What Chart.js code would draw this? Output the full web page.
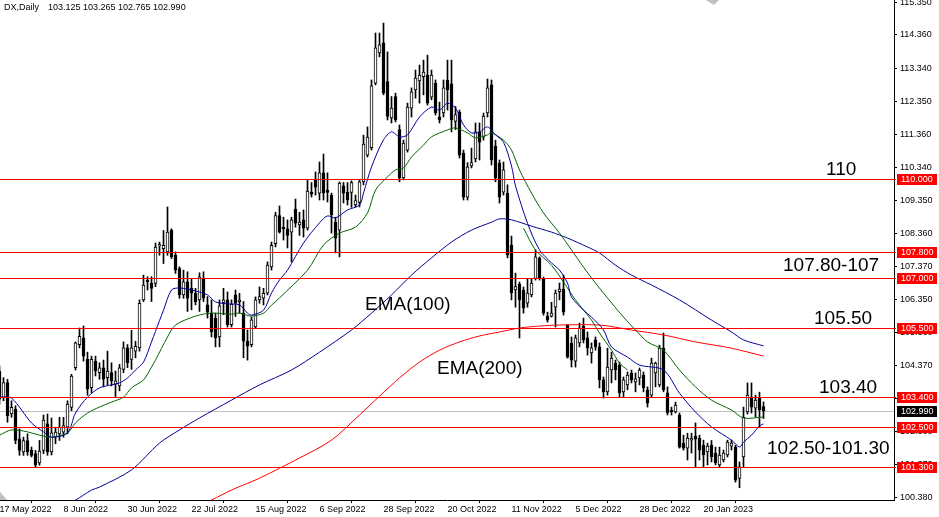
<!DOCTYPE html>
<html><head><meta charset="utf-8">
<script src="https://cdn.jsdelivr.net/npm/chart.js@4.4.0/dist/chart.umd.min.js"></script>
<style>html,body{margin:0;padding:0;background:#fff;overflow:hidden}canvas{display:block}</style>
</head><body>
<canvas id="c" width="939" height="517"></canvas>
<script>
// ---------- data ----------
const symbolName = 'DX,Daily';
const lastBarText = '103.125 103.265 102.765 102.990';
const dateLabels = ['17 May 2022','8 Jun 2022','30 Jun 2022','22 Jul 2022','15 Aug 2022','6 Sep 2022','28 Sep 2022','20 Oct 2022','11 Nov 2022','5 Dec 2022','28 Dec 2022','20 Jan 2023'];
const dateLabelBars = [0,16,32,48,64,80,96,112,128,144,160,176];
const priceTicks = [115.35,114.36,113.34,112.35,111.36,110.34,109.35,108.36,107.37,106.35,105.36,104.37,103.38,102.38,101.37,100.38];
const levels = [110.0,107.8,107.0,105.5,103.4,102.5,101.3];
const currentPrice = 102.990;
const yMin = 100.30, yMax = 115.418;

const opens = [104.20,103.40,103.85,102.90,103.05,102.15,101.75,102.10,101.80,101.70,101.42,101.80,102.60,101.75,102.20,102.30,102.35,102.50,103.10,104.30,
105.00,105.20,104.55,103.70,104.50,104.15,104.30,104.00,104.15,103.80,103.75,104.25,104.90,104.55,104.80,104.90,106.35,106.95,106.85,106.85,
107.98,107.90,107.80,108.45,107.70,107.30,106.50,106.90,106.70,106.55,106.35,107.00,106.20,105.95,105.80,105.23,106.27,106.35,105.60,106.50,
106.30,105.95,105.10,105.00,105.53,106.35,106.40,106.55,107.35,108.05,108.90,108.55,108.50,108.40,109.10,108.62,108.77,108.52,109.60,110.00,
109.58,110.19,109.67,109.52,108.70,108.46,109.80,109.60,109.60,109.22,109.30,109.92,110.73,110.95,112.90,113.82,114.12,112.95,111.85,112.50,
111.50,110.04,110.88,112.15,112.70,112.97,113.10,113.15,112.48,112.90,111.88,112.00,113.00,112.88,111.75,112.03,110.79,109.46,110.40,110.61,
111.43,111.27,112.00,112.85,111.00,110.49,109.61,109.58,108.01,106.65,106.83,106.65,106.25,106.50,107.00,107.62,107.00,105.86,105.86,106.13,
106.60,106.68,105.60,105.04,104.50,105.05,105.56,105.20,104.75,105.14,104.93,103.93,103.57,104.23,104.44,104.38,103.57,103.78,104.14,103.87,
103.99,104.08,103.63,103.47,104.14,103.78,104.89,103.54,103.02,102.96,102.87,102.02,101.87,102.11,102.23,102.17,101.96,101.75,101.96,101.72,
101.36,101.51,101.66,101.93,101.90,100.95,101.60,102.96,103.38,103.08,103.38,103.125];
const highs = [104.35,104.00,103.95,103.30,103.15,102.45,102.20,102.30,101.90,101.80,102.10,102.87,102.90,102.78,102.50,102.80,102.80,103.30,104.10,105.08,
105.50,105.56,104.77,104.65,104.65,104.45,104.53,104.80,104.45,104.20,104.40,105.08,105.00,105.43,105.10,106.35,107.10,107.05,107.05,108.07,
108.10,108.45,109.16,108.50,107.80,107.35,107.25,107.20,107.00,106.70,107.17,107.20,106.45,106.35,105.95,106.35,106.70,106.59,106.35,106.65,
106.55,106.30,105.44,105.83,106.44,106.74,106.70,107.50,108.10,109.00,109.19,108.85,108.77,108.85,109.40,109.00,109.07,109.98,109.90,110.22,
110.52,110.76,110.19,109.58,108.85,109.92,109.90,109.90,109.95,109.52,109.98,111.33,111.58,113.00,114.42,114.42,114.72,113.85,112.50,112.60,
111.64,111.18,112.30,112.76,113.30,113.45,113.60,113.75,113.30,113.00,112.33,113.00,113.60,113.60,112.20,112.09,110.88,110.50,110.94,111.70,
111.70,112.00,113.03,113.00,111.18,110.58,110.52,109.83,108.28,107.16,106.89,106.74,107.00,107.00,107.86,107.65,107.04,105.98,106.28,106.65,
106.86,107.10,105.60,105.23,105.29,105.65,105.80,105.38,105.05,105.23,105.05,104.02,104.89,104.77,104.53,104.47,104.02,104.17,104.23,104.14,
104.29,104.17,103.72,104.59,104.47,104.98,105.35,103.72,103.11,103.26,102.93,102.26,102.32,102.32,102.63,102.26,102.11,102.02,102.10,101.90,
101.90,101.81,102.11,102.11,101.96,101.45,103.11,103.84,103.84,103.47,103.56,103.265];
const lows = [103.20,103.30,102.65,102.80,102.00,101.65,101.65,101.65,101.60,101.30,101.35,101.70,101.65,101.66,102.00,102.10,102.20,102.30,103.00,104.23,
104.90,104.50,103.47,103.55,104.05,103.95,103.72,103.78,103.75,103.40,103.60,104.15,104.30,104.25,104.60,104.80,106.30,106.65,106.30,106.75,
107.70,107.45,107.70,107.60,107.15,106.40,106.40,106.00,106.05,106.20,106.00,106.30,105.80,105.23,104.93,104.93,105.90,105.53,105.53,105.85,
105.95,104.60,104.53,104.93,105.50,106.25,106.20,106.50,107.25,107.95,108.37,108.16,107.92,107.50,108.55,108.30,108.25,108.46,109.46,109.52,
109.37,109.37,109.31,108.37,107.77,107.65,109.28,109.22,109.15,109.16,109.16,109.83,110.67,110.88,112.85,113.70,112.55,111.79,111.70,111.73,
109.92,109.98,110.82,111.88,112.45,112.30,112.55,112.24,112.40,111.94,111.70,111.88,112.09,111.43,111.50,110.64,109.37,109.37,110.34,110.52,
110.58,111.18,111.88,110.43,109.92,109.28,109.52,107.62,106.35,106.13,105.20,105.95,106.13,106.44,106.95,106.95,105.89,105.68,105.83,105.53,
106.35,105.89,104.59,104.32,104.32,104.93,105.05,104.68,104.44,104.83,103.69,103.38,103.47,103.84,103.93,103.42,103.42,103.63,103.84,103.57,
103.78,103.57,103.11,103.42,103.72,103.72,103.57,102.87,102.87,102.93,101.87,101.81,101.51,101.72,101.30,101.51,101.30,101.36,101.45,101.36,
101.30,101.45,101.60,101.81,100.84,100.67,101.30,102.90,102.93,102.81,102.50,102.765];
const closes = [103.35,103.85,102.85,103.10,102.10,101.80,102.10,101.75,101.65,101.35,101.78,102.72,101.75,102.33,102.35,102.50,102.55,103.20,104.05,105.05,
105.25,104.65,103.65,104.55,104.20,104.30,103.95,104.20,103.90,103.90,104.30,104.90,104.45,104.90,104.95,106.25,106.80,106.90,106.70,107.95,
108.02,108.00,108.40,107.65,107.25,106.50,106.90,106.40,106.55,106.30,107.05,106.40,105.98,105.38,105.20,106.17,106.35,105.60,106.22,106.25,
106.35,105.10,104.95,105.75,106.35,106.45,106.55,107.40,108.00,108.90,108.40,108.50,108.30,108.77,108.67,108.70,108.52,109.64,109.55,109.76,
110.19,109.58,109.60,108.92,108.22,109.88,109.58,109.37,109.90,109.35,109.92,111.06,111.27,112.82,113.97,114.06,112.60,111.90,112.15,111.79,
110.04,111.09,112.18,112.64,113.06,113.15,113.24,112.30,113.15,112.00,111.79,112.76,112.70,111.79,111.95,110.73,109.46,110.37,110.50,111.43,
111.12,111.91,112.76,110.58,110.04,109.46,110.28,107.71,106.56,106.75,106.35,106.10,106.56,106.86,107.65,107.00,105.95,105.74,105.95,106.56,
106.68,105.98,104.62,104.53,105.20,105.50,105.14,104.90,104.90,104.93,103.93,103.57,104.32,104.59,104.23,103.54,103.93,104.08,103.93,103.96,
104.23,103.69,103.23,104.44,104.44,104.89,103.63,102.93,102.96,103.17,101.90,101.87,102.17,102.17,102.14,101.81,101.66,101.93,101.60,101.42,
101.66,101.72,102.05,102.02,100.90,101.30,102.80,103.47,103.11,103.32,103.02,102.990];

// moving averages (bar index, value)
const emaFastBars = [0,3,8,11,13,17,19,22,25,28,30,32,34,36,38,39,41,43,45,49,52,54,57,60,62,63,66,68,70,72,76,80,82,84,87,90,91,93,96,98,100,102,105,108,110,112,114,116,118,120,122,124,126,128,129,132,135,138,140,142,143,146,148,151,153,157,160,166,170,174,178,183,185,186,188,190,191];
const emaFastValues = [103.41,103.38,102.63,102.36,102.20,102.33,102.93,103.41,103.69,103.78,103.84,103.99,104.23,104.47,105.08,105.40,106.04,106.65,106.71,106.62,106.50,106.29,106.23,106.20,105.95,105.89,106.04,106.56,106.95,107.25,108.07,108.68,108.89,108.83,109.07,109.22,109.58,110.37,111.19,111.43,111.28,111.34,111.88,112.18,112.09,112.30,112.15,111.64,111.40,111.43,111.58,111.34,111.12,110.40,109.80,108.67,107.86,107.47,107.25,106.86,106.44,106.04,105.83,105.44,104.93,104.62,104.38,104.23,103.53,102.96,102.51,102.11,101.90,102.05,102.26,102.54,102.60];
const emaMidBars = [0,3,7,10,13,17,19,22,25,28,31,33,36,38,39,42,44,49,53,58,60,63,66,68,70,77,81,85,89,92,94,97,99,101,103,106,108,112,114,117,119,122,123,126,128,130,133,136,140,143,146,149,153,156,159,162,166,170,174,178,183,186,191];
const emaMidValues = [102.26,102.42,102.36,102.26,102.20,102.33,102.63,102.93,103.11,103.26,103.41,103.69,103.93,104.32,104.53,105.23,105.59,105.86,105.95,105.92,105.95,105.86,105.95,106.19,106.41,107.25,108.01,108.37,108.55,108.98,109.67,110.07,110.28,110.34,110.67,111.03,111.28,111.49,111.55,111.40,111.25,111.34,111.40,111.18,110.88,110.28,109.58,108.98,108.37,107.86,107.34,106.86,106.26,105.83,105.44,105.08,104.83,104.23,103.72,103.32,103.02,102.78,102.81];
const ema100Bars = [15,19,23,25,33,40,45,50,58,65,73,80,88,93,98,103,108,113,118,123,125,128,133,138,142,147,150,154,158,163,170,178,183,186,191];
const ema100Values = [100.10,100.30,100.60,100.69,101.21,102.02,102.42,102.78,103.32,103.78,104.23,104.77,105.44,105.95,106.50,107.10,107.62,108.10,108.46,108.70,108.80,108.77,108.58,108.40,108.22,107.95,107.77,107.40,107.10,106.80,106.35,105.74,105.38,105.14,104.96];
const ema200Bars = [50,53,58,65,75,83,90,95,100,105,110,115,120,125,130,135,140,150,158,166,174,183,191];
const ema200Values = [100.15,100.30,100.60,100.96,101.57,102.11,102.87,103.44,103.99,104.47,104.83,105.08,105.26,105.38,105.50,105.56,105.59,105.59,105.44,105.29,105.08,104.89,104.65];
const trendBars = [131,134,138,141,144,148,150,153,155,157];
const trendValues = [108.52,107.86,107.40,106.89,106.35,105.74,105.35,104.83,104.44,104.23];

// ---------- build ----------
const barIdx = opens.map((_, i) => i);
const wickData = barIdx.map(i => ({x: i, y: [lows[i], highs[i]]}));
const bodyData = barIdx.map(i => ({x: i, y: [Math.min(opens[i], closes[i]), Math.max(opens[i], closes[i])]}));
const bodyFill = barIdx.map(i => closes[i] >= opens[i] ? '#ffffff' : '#000000');
const pts = (b, v) => b.map((x, k) => ({x, y: v[k]}));

const FONT = 'Liberation Sans';
Chart.defaults.font.family = FONT;
Chart.defaults.font.size = 9;
Chart.defaults.color = '#000';

const lineDs = (data, color, order) => ({type: 'line', data, borderColor: color, borderWidth: 1, pointRadius: 0, fill: false, tension: 0.3, order});

const overlay = {
  id: 'overlay',
  beforeDatasetsDraw(chart) {
    const {ctx, chartArea: a, scales: {y}} = chart;
    ctx.save();
    const py = Math.round(y.getPixelForValue(currentPrice)) + 0.5;
    ctx.strokeStyle = '#c0c0c0'; ctx.lineWidth = 1;
    ctx.beginPath(); ctx.moveTo(a.left, py); ctx.lineTo(a.right, py); ctx.stroke();
    ctx.restore();
  },
  afterDatasetsDraw(chart) {
    const {ctx, chartArea: a, scales: {y}} = chart;
    ctx.save();
    ctx.strokeStyle = '#ff0000'; ctx.lineWidth = 1;
    levels.forEach(v => {
      const py = Math.round(y.getPixelForValue(v)) + 0.5;
      ctx.beginPath(); ctx.moveTo(a.left, py); ctx.lineTo(a.right + 2, py); ctx.stroke();
    });
    ctx.restore();
  },
  afterDraw(chart) {
    const {ctx, chartArea: a, scales: {y}} = chart;
    ctx.save();
    const box = (v, bg) => {
      const py = Math.round(y.getPixelForValue(v));
      ctx.fillStyle = bg;
      ctx.fillRect(a.right + 3, py - 5, 40, 11);
      ctx.fillStyle = '#ffffff';
      ctx.font = '9px ' + FONT;
      ctx.textBaseline = 'middle'; ctx.textAlign = 'left';
      ctx.fillText(v.toFixed(3), a.right + 7, py + 0.5);
    };
    levels.forEach(v => box(v, '#ff0000'));
    box(currentPrice, '#000000');
    ctx.fillStyle = '#000'; ctx.font = '9px ' + FONT; ctx.textBaseline = 'alphabetic'; ctx.textAlign = 'left';
    ctx.fillText(symbolName, 4, 10);
    ctx.fillText(lastBarText, 48, 10);
    ctx.font = '19px ' + FONT; ctx.fillStyle = '#000';
    ctx.fillText('110', 826, y.getPixelForValue(110) - 4);
    ctx.fillText('107.80-107', 783, y.getPixelForValue(107) - 7);
    ctx.fillText('105.50', 814, y.getPixelForValue(105.5) - 4);
    ctx.fillText('103.40', 819, y.getPixelForValue(103.4) - 4);
    ctx.fillText('102.50-101.30', 767, y.getPixelForValue(101.3) - 13);
    ctx.fillText('EMA(100)', 365, 310);
    ctx.fillText('EMA(200)', 437, 374);
    // MT4 chart markers (grey triangles)
    ctx.fillStyle = '#c0c0c0';
    ctx.beginPath(); ctx.moveTo(0, a.bottom - 8); ctx.lineTo(0, a.bottom); ctx.lineTo(7, a.bottom); ctx.closePath(); ctx.fill();
    ctx.beginPath(); ctx.moveTo(706, a.top); ctx.lineTo(719, a.top); ctx.lineTo(714, a.top + 5); ctx.closePath(); ctx.fill();
    ctx.restore();
  }
};

new Chart(document.getElementById('c'), {
  type: 'bar',
  data: {
    datasets: [
      {label: 'wick', data: wickData, backgroundColor: '#000', barThickness: 1, grouped: false, order: 20, minBarLength: 1},
      {label: 'body', data: bodyData, backgroundColor: bodyFill, borderColor: '#000', borderWidth: 1, borderSkipped: false, barThickness: 3, grouped: false, order: 19, minBarLength: 1},
      lineDs(pts(ema200Bars, ema200Values), '#ff0000', 4),
      lineDs(pts(ema100Bars, ema100Values), '#000090', 3),
      lineDs(pts(trendBars, trendValues), '#006400', 2),
      lineDs(pts(emaMidBars, emaMidValues), '#006400', 2),
      lineDs(pts(emaFastBars, emaFastValues), '#0000a0', 1)
    ]
  },
  options: {
    responsive: false, animation: false, devicePixelRatio: 1,
    layout: {padding: 0, autoPadding: false},
    plugins: {legend: {display: false}, tooltip: {enabled: false}},
    events: [],
    scales: {
      x: {
        type: 'linear', position: 'bottom', min: 0.125, max: 223.625, offset: false,
        afterBuildTicks: s => { s.ticks = dateLabelBars.map(v => ({value: v})); },
        afterFit: s => { s.height = 17; s.paddingLeft = 0; s.paddingRight = 0; s.paddingTop = 0; s.paddingBottom = 0; },
        ticks: {autoSkip: false, maxRotation: 0, align: 'start', padding: 1,
          callback: v => { const k = dateLabelBars.indexOf(v); return k >= 0 ? dateLabels[k] : ''; }},
        grid: {drawOnChartArea: false, drawTicks: true, tickLength: 3, color: '#000'},
        border: {display: true, color: '#000', width: 1}
      },
      y: {
        type: 'linear', position: 'right', min: yMin, max: yMax,
        afterBuildTicks: s => { s.ticks = priceTicks.map(v => ({value: v})); },
        afterFit: s => { s.width = 45; s.paddingTop = 0; s.paddingBottom = 0; s.paddingLeft = 0; s.paddingRight = 0; },
        ticks: {autoSkip: false, padding: 3, callback: v => Number(v).toFixed(3)},
        grid: {drawOnChartArea: false, drawTicks: true, tickLength: 3, color: '#000'},
        border: {display: true, color: '#000', width: 1}
      }
    }
  },
  plugins: [overlay]
});
</script>
</body></html>
